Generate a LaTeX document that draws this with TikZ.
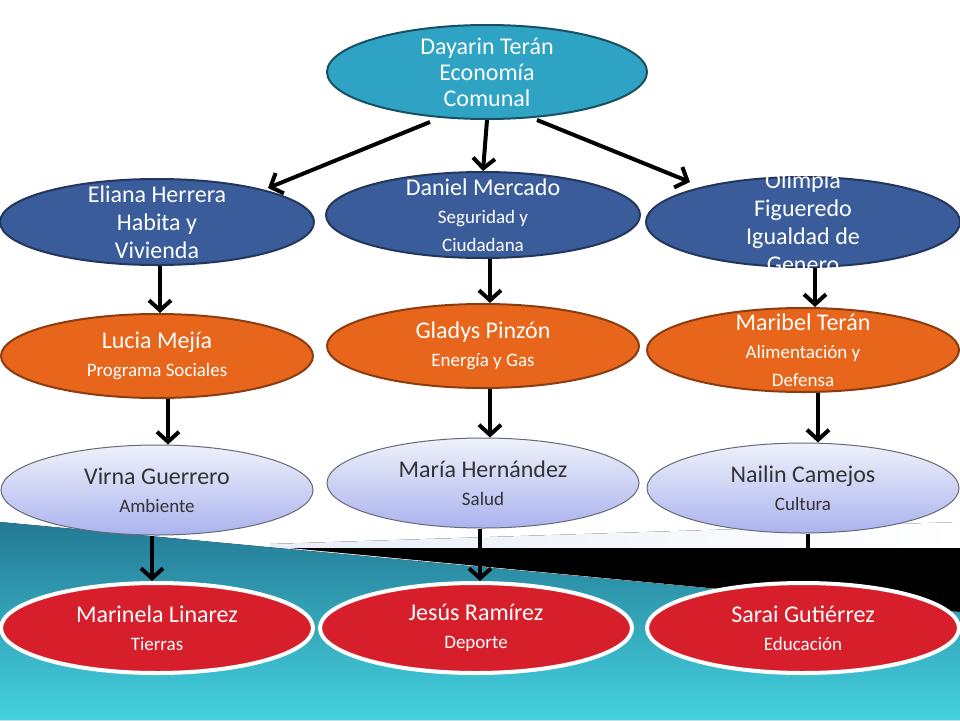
\documentclass[tikz,border=0pt]{standalone}
\usepackage{fontspec}
\setmainfont{Carlito}
\usetikzlibrary{shapes.geometric,arrows.meta}
\newcommand\smf{\fontsize{19}{24}\selectfont}
\definecolor{topc}{HTML}{2EA3C4}
\definecolor{dblue}{HTML}{3B5C9A}
\definecolor{oran}{HTML}{E8661C}
\definecolor{lav}{HTML}{C9D3EC}
\definecolor{redc}{HTML}{D61F2A}
\definecolor{teal}{HTML}{2A8EAE}
\begin{document}
\begin{tikzpicture}[x=1pt,y=-1pt,
 ell/.style={ellipse,minimum width=2*#1,align=center,inner sep=-40pt},
 topn/.style={ell=160,minimum height=94,fill=topc,draw=topc!50!black,line width=2,text=white,font=\fontsize{24}{26}\selectfont},
 bl/.style={ell=157,minimum height=86,fill=dblue,draw=dblue!60!black,line width=2,text=white,font=\fontsize{24}{28}\selectfont},
 orn/.style={ell=156,minimum height=84,fill=oran,draw=oran!60!black,line width=2,text=white,font=\fontsize{24}{28}\selectfont},
 lvn/.style={ell=156,minimum height=90,top color=white!70!lav,bottom color=lav!85!blue,draw=lav!50!black,line width=1,text=black!80,font=\fontsize{24}{28}\selectfont},
 rdn/.style={ell=156,minimum height=90,fill=redc,draw=white,line width=4,text=white,font=\fontsize{24}{28}\selectfont},
 arr/.style={line width=4,-{Straight Barb[length=10pt,width=22pt,line width=4pt]}}]
\useasboundingbox (0,0) rectangle (960,720);
\fill[white] (0,0) rectangle (960,720);
% background
\fill[left color=lav!40,right color=white] (270,544) -- (960,522) -- (960,612) -- (270,548) -- cycle;
\fill[black] (290,548) -- (960,548) -- (960,612) -- cycle;
\fill[top color=teal!85!black,bottom color=teal!50!cyan!80!white] (0,522) -- (960,612) -- (960,720) -- (0,720) -- cycle;
% nodes
\node[topn] (a) at (487,72) {Dayarin Terán\\Economía\\Comunal};
\node[bl] (b1) at (157,222) {Eliana Herrera\\Habita y\\Vivienda};
\node[bl] (b2) at (483,215) {Daniel Mercado\\{\smf Seguridad y}\\{\smf Ciudadana}};
\node[bl,minimum height=90] (b3) at (803,222) {};
\node[text=white,align=center,font=\fontsize{24}{28}\selectfont] (b3t) at (b3) {Olimpia\\Figueredo\\Igualdad de\\Genero};
\node[orn] (c1) at (157,356) {Lucia Mejía\\{\smf Programa Sociales}};
\node[orn] (c2) at (483,346) {Gladys Pinzón\\{\smf Energía y Gas}};
\node[orn] (c3) at (803,350) {Maribel Terán\\{\smf Alimentación y}\\{\smf Defensa}};
\node[lvn] (d1) at (157,490) {Virna Guerrero\\{\smf Ambiente}};
\node[lvn] (d2) at (483,483) {María Hernández\\{\smf Salud}};
\node[lvn] (d3) at (803,488) {Nailin Camejos\\{\smf Cultura}};
\node[rdn] (e1) at (157,628) {Marinela Linarez\\{\smf Tierras}};
\node[rdn] (e2) at (476,628) {Jesús Ramírez\\{\smf Deporte}};
\node[rdn] (e3) at (803,628) {Sarai Gutiérrez\\{\smf Educación}};
% connectors
\coordinate (a1) at (430,122); \coordinate (a1e) at (268,188);
\coordinate (a3) at (537,120); \coordinate (a3e) at (690,182);
\draw[arr] (a1) -- (a1e);
\draw[arr] (a.south) -- (b2.north);
\draw[arr] (a3) -- (a3e);
\draw[arr] (b1.south -| 160,0) -- (c1.north -| 160,0);
\draw[arr] (b2.south -| 490,0) -- (c2.north -| 490,0);
\draw[arr] (b3.south -| 815,0) -- (c3.north -| 815,0);
\draw[arr] (c1.south -| 168,0) -- (d1.north -| 168,0);
\draw[arr] (c2.south -| 490,0) -- (d2.north -| 490,0);
\draw[arr] (c3.south -| 818,0) -- (d3.north -| 818,0);
\draw[arr] (d1.south -| 152,0) -- (e1.north -| 152,0);
\draw[arr] (d2.south -| 480,0) -- (e2.north -| 480,0);
\coordinate (d3e) at (808,550);
\draw[line width=4] (d3.south -| 808,0) -- (d3e);
\end{tikzpicture}
\end{document}
